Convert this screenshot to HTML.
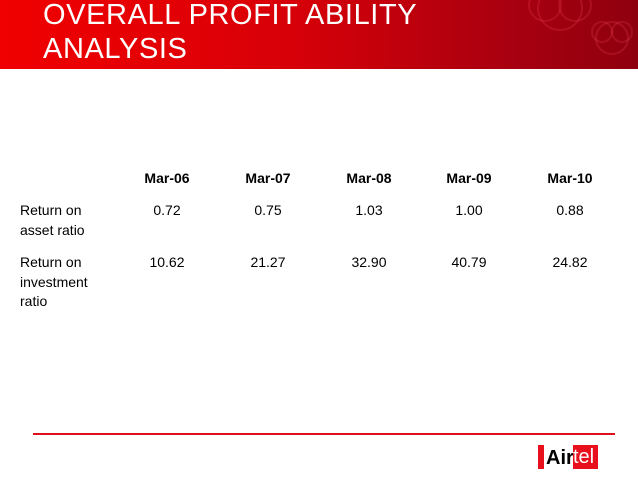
<!DOCTYPE html>
<html><head><style>
body{margin:0;width:638px;height:478px;background:#fff;position:relative;overflow:hidden;font-family:"Liberation Sans",sans-serif}
.hdr{position:absolute;left:0;top:0;width:638px;height:69px;background:linear-gradient(90deg,#f00000 0%,#d80008 45%,#a80010 80%,#8e000e 100%)}
.title{position:absolute;left:43px;top:-2px;color:#fff;font-size:29px;line-height:34px;letter-spacing:0.6px}
.c{position:absolute;font-size:14px;color:#000;text-align:center;width:90px}
.b{font-weight:bold}
.l{position:absolute;left:20px;font-size:14px;line-height:19.5px;color:#000}
</style></head><body>
<div class="hdr">
<svg width="638" height="69" style="position:absolute;left:0;top:0">
<g fill="none" stroke="#ff5060" stroke-opacity="0.2" stroke-width="2">
<circle cx="560" cy="8" r="22"/><circle cx="545" cy="5" r="16"/><circle cx="575" cy="5" r="16"/>
<circle cx="612" cy="38" r="16"/><circle cx="602" cy="32" r="10"/><circle cx="622" cy="32" r="10"/>
</g></svg>
<div class="title">OVERALL PROFIT ABILITY<br>ANALYSIS</div>
</div>
<div id="tbl"></div>
<div style="position:absolute;left:33px;top:433px;width:582px;height:2px;background:#e0101a"></div>
<div style="position:absolute;left:538px;top:445px;height:24px">
<div style="position:absolute;left:0;top:0;width:6px;height:24px;background:#e8101c"></div>
<div style="position:absolute;left:8px;top:2px;font-size:20px;color:#000;line-height:22px;font-weight:bold">Air</div>
<div style="position:absolute;left:35px;top:0;width:25px;height:24px;background:#e8101c;color:#fff;font-size:20px;line-height:24px">tel</div>
</div>
<script>
const periods=["Mar-06","Mar-07","Mar-08","Mar-09","Mar-10"];
const roa=["0.72","0.75","1.03","1.00","0.88"];
const roi=["10.62","21.27","32.90","40.79","24.82"];
const rowLabels=["Return on<br>asset ratio","Return on<br>investment<br>ratio"];
const t=document.getElementById('tbl');
const cx=[167,268,369,469,570];
function cell(txt,x,y,cls,name){const d=document.createElement('div');d.className='c '+cls;d.style.left=(x-45)+'px';d.style.top=y+'px';d.innerHTML=txt;


t.appendChild(d);}
periods.forEach((p,i)=>cell(p,cx[i],170,'b','column-header'));
roa.forEach((v,i)=>cell(v,cx[i],202,'','roa-value'));
roi.forEach((v,i)=>cell(v,cx[i],254,'','roi-value'));
[201,253].forEach((y,i)=>{const d=document.createElement('div');d.className='l';d.style.top=y+'px';d.innerHTML=rowLabels[i];


t.appendChild(d);});
</script>
</body></html>
